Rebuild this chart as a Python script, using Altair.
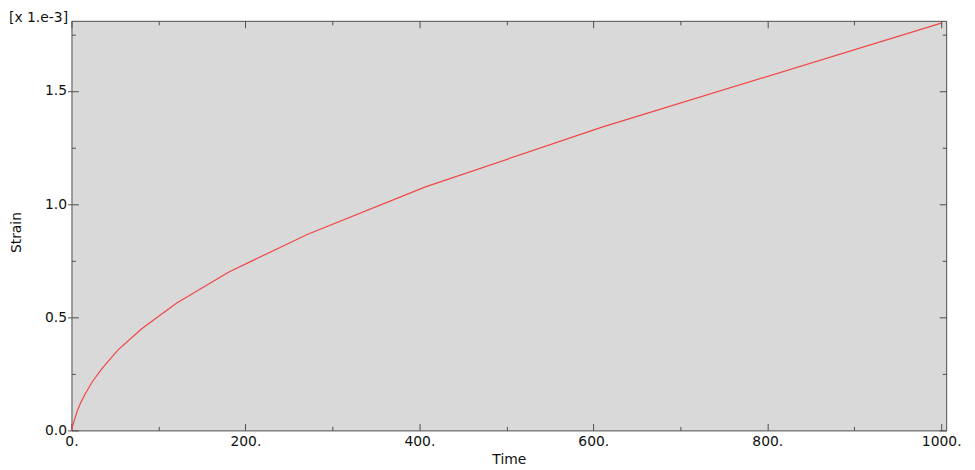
import altair as alt
import pandas as pd

# Data (strain in units of 1e-3)
time = [0, 2.1, 4.7, 7.1, 10.6, 15.9, 23.8, 35.7, 53.6, 80.4, 120.6, 181, 271, 407, 610, 1000]
strain = [0, 0.03, 0.062, 0.09, 0.122, 0.162, 0.214, 0.276, 0.356, 0.448, 0.562, 0.70, 0.866,
          1.076, 1.34, 1.80]

x_major = [0, 200, 400, 600, 800, 1000]
x_minor = [100, 300, 500, 700, 900]
y_major = [0.0, 0.5, 1.0, 1.5]
y_minor = [0.25, 0.75, 1.25, 1.75]
scale_note = ["[x 1.e-3]"]

df = pd.DataFrame({"Time": time, "Strain": strain})
note_df = pd.DataFrame({"note": scale_note})

W, H = 882, 413
FONT = "DejaVu Sans"
TXT = "#111111"
FRAME = "#4d4d4d"

xs = alt.Scale(domain=[0, 1005.7], nice=False, zero=False)
ys = alt.Scale(domain=[0, 1.81], nice=False, zero=False)


def tick_axis(orient, values, size, offset):
    return alt.Axis(orient=orient, values=values, tickSize=size, offset=offset,
                    labels=False, domain=False, grid=False, title=None, ticks=True)


main = alt.Chart().mark_line(color="#f04646", strokeWidth=1.2).encode(
    x=alt.X("Time:Q", scale=xs, axis=alt.Axis(
        orient="bottom", values=x_major, labelExpr="datum.value + '.'",
        ticks=False, domain=False, grid=False, labelFlush=False, labelOverlap=False,
        labelPadding=4, labelFontSize=14, labelFont=FONT, labelColor=TXT,
        title="Time", titleFont=FONT, titleFontSize=14, titleFontWeight="normal",
        titleColor=TXT, titlePadding=4)),
    y=alt.Y("Strain:Q", scale=ys, axis=alt.Axis(
        orient="left", values=y_major, format=".1f", tickSize=4, ticks=True,
        domain=False, grid=False, labelPadding=1, labelFontSize=14, labelFont=FONT,
        labelColor=TXT, labelFlush=False, labelOverlap=False,
        title="Strain", titleFont=FONT, titleFontSize=14, titleFontWeight="normal",
        titleColor=TXT, titlePadding=21, titleY=213)),
)


def tick_layer(xo, yo, xv, yv, size, xoff, yoff):
    return alt.Chart().mark_line(opacity=0).encode(
        x=alt.X("Time:Q", scale=xs, axis=tick_axis(xo, xv, size, xoff)),
        y=alt.Y("Strain:Q", scale=ys, axis=tick_axis(yo, yv, size, yoff)),
    )


l2 = tick_layer("top", "right", x_major, y_major, 7, -H, -W)
l3 = tick_layer("top", "right", x_minor, y_minor, 4, -H, -W)
l4 = tick_layer("bottom", "left", x_major, y_major, 7, -H, -W)
l5 = tick_layer("bottom", "left", x_minor, y_minor, 4, -H, -W)

note = alt.Chart(note_df).mark_text(
    align="left", baseline="alphabetic", font=FONT, fontSize=14, color=TXT
).encode(text="note:N", x=alt.value(-63), y=alt.value(1))

chart = alt.layer(main, l2, l3, l4, l5, note, data=df).resolve_axis(
    x="independent", y="independent"
).properties(
    width=W, height=H,
    padding={"left": 64, "top": 11, "right": 21, "bottom": 38},
    autosize=alt.AutoSizeParams(type="none"),
    background="white",
).configure_view(
    stroke=FRAME, strokeWidth=1, fill="#d9d9d9"
).configure_axis(
    tickColor=FRAME, tickWidth=1
)

chart.save("out.html", embed_options={"renderer": "svg", "actions": False})
